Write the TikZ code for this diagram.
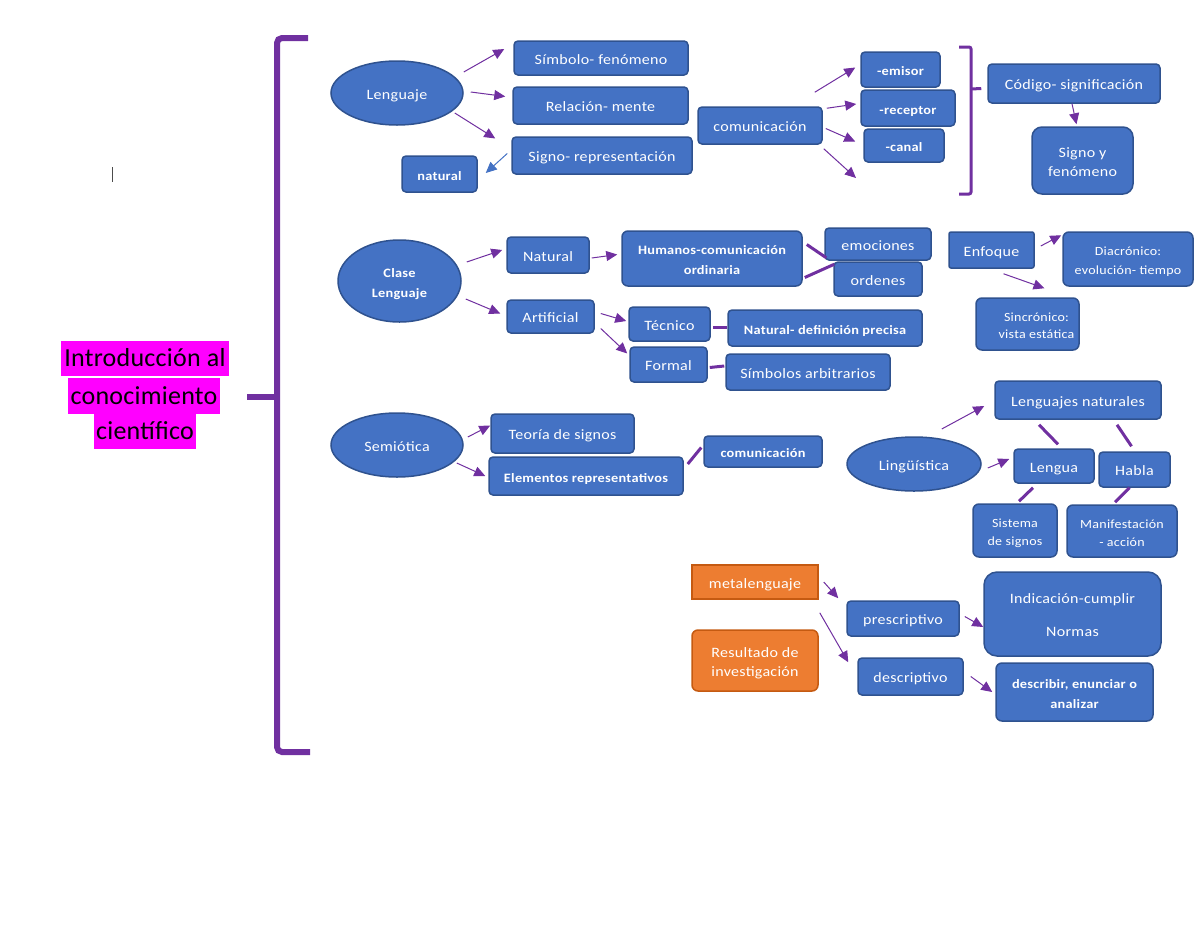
\documentclass[tikz,border=0pt]{standalone}
\usepackage{fontspec}
\setmainfont{Carlito}[FakeStretch=1.12,LetterSpace=2]
\newfontfamily\titlefont{Carlito}[LetterSpace=1]
\definecolor{boxblue}{HTML}{4472C4}
\definecolor{edgeblue}{HTML}{2F528F}
\definecolor{boxorange}{HTML}{ED7D31}
\definecolor{edgeorange}{HTML}{C55A11}
\definecolor{linepurple}{HTML}{7030A0}
\definecolor{titlepink}{HTML}{FF00FF}
\usetikzlibrary{shapes.geometric,arrows.meta}
\tikzset{
    bluebox/.style={draw=edgeblue, fill=boxblue, line width=1.5pt, rounded corners=4pt, text=white, align=center, inner sep=0pt, text height=12.5pt, text depth=0pt, font=\fontsize{14.3}{19}\selectfont},
    boldbox/.style={bluebox, font=\fontsize{12.8}{20}\selectfont\bfseries},
    orangebox/.style={bluebox, draw=edgeorange, fill=boxorange},
    blueoval/.style={ellipse, bluebox, rounded corners=0pt},
    smalltext/.style={font=\fontsize{12.5}{#1}\selectfont, rounded corners=6pt, text height=\dimexpr 12.5pt+#1\relax},
    flowarrow/.style={draw=linepurple, line width=1pt, -{Triangle[length=11pt,width=10pt]}},
    thickline/.style={draw=linepurple, line width=3pt},
    titleline/.style={fill=titlepink, text=black, inner sep=0pt, font=\titlefont\fontsize{26}{30}\selectfont}
}
\begin{document}
\begin{tikzpicture}[x=1pt,y=-1pt]
    \useasboundingbox (0,0) rectangle (1200,927);

    % title and big bracket
    \node[titleline, minimum width=168pt, minimum height=35pt] (titleone) at (145,358) {Introducción al};
    \node[titleline, minimum width=152pt, minimum height=36pt] (titletwo) at (144,396) {conocimiento};
    \node[titleline, minimum width=102pt, minimum height=35pt] (titlethree) at (145,431) {científico};
    \draw[linepurple, line width=6pt, rounded corners=5pt] (308,38) -- (277,38) -- (277,752) -- (310,752);
    \coordinate (bigtick) at (277,397);
    \draw[linepurple, line width=6pt] (247,397) -- (bigtick);
    \draw[black!70, line width=1pt] (112,167) -- (112,182);

    % Lenguaje
    \node[blueoval, minimum width=132pt, minimum height=64pt] (lenguaje) at (397,93) {Lenguaje};
    \node[bluebox, minimum width=174pt, minimum height=34pt] (simbolo) at (601,58) {Símbolo- fenómeno};
    \node[bluebox, minimum width=175pt, minimum height=37pt] (relacion) at (600.5,105.5) {Relación- mente};
    \node[bluebox, minimum width=180pt, minimum height=37pt] (signo) at (602,155.5) {Signo- representación};
    \node[boldbox, minimum width=75pt, minimum height=36pt] (natural) at (439.5,174) {natural};
    \node[bluebox, minimum width=124pt, minimum height=37pt] (comunicacion) at (760,125.5) {comunicación};
    \node[boldbox, minimum width=79pt, minimum height=35pt] (emisor) at (900.5,69.5) {-emisor};
    \node[boldbox, minimum width=94pt, minimum height=36pt] (receptor) at (908,108) {-receptor};
    \node[boldbox, minimum width=80pt, minimum height=33pt] (canal) at (904,145.5) {-canal};
    \node[bluebox, minimum width=172pt, minimum height=39pt] (codigo) at (1074,83.5) {Código- significación};
    \node[bluebox, rounded corners=10pt, text height=31.5pt, minimum width=101pt, minimum height=67pt] (signoy) at (1082.5,160.5) {Signo y\\fenómeno};
    \coordinate (comfree) at (856,178);
    \draw[flowarrow] ([shift={(0,-21)}]lenguaje.east) -- ([shift={(-9,-9)}]simbolo.west);
    \draw[flowarrow] ([shift={(7,-1)}]lenguaje.east) -- ([shift={(-7,-9)}]relacion.west);
    \draw[flowarrow] ([shift={(-9,20)}]lenguaje.east) -- ([shift={(-16,-17)}]signo.west);
    \draw[flowarrow, draw=boxblue] ([shift={(-4,-2)}]signo.west) -- ([shift={(8,-1)}]natural.east);
    \draw[flowarrow] ([shift={(-8,-14)}]comunicacion.north east) -- ([shift={(-5,-2)}]emisor.west);
    \draw[flowarrow] ([shift={(4,2)}]comunicacion.north east) -- ([shift={(-4,-4)}]receptor.west);
    \draw[flowarrow] ([shift={(3,3)}]comunicacion.east) -- ([shift={(-8,-4)}]canal.west);
    \draw[flowarrow] ([shift={(1,4)}]comunicacion.south east) -- (comfree);
    \draw[flowarrow] ([shift={(-2,0)}]codigo.south) -- ([shift={(-6,-2)}]signoy.north);
    % small bracket
    \draw[linepurple, line width=3pt, rounded corners=2pt] (959,47) -- (971,47) -- (971,194) -- (959,194);
    \draw[thickline] (971,89) -- ([shift={(-6,5)}]codigo.west);

    % Clase Lenguaje
    \node[blueoval, boldbox, rounded corners=0pt, text height=32.5pt, minimum width=123pt, minimum height=82pt] (clase) at (399.5,281) {Clase\\Lenguaje};
    \node[bluebox, minimum width=82pt, minimum height=36pt] (naturalc) at (548,255) {Natural};
    \node[boldbox, rounded corners=6pt, text height=32.5pt, minimum width=180pt, minimum height=55pt] (humanos) at (712,258.5) {Humanos-comunicación\\ordinaria};
    \node[bluebox, minimum width=106pt, minimum height=32pt] (emociones) at (878,244) {emociones};
    \node[bluebox, minimum width=88pt, minimum height=34pt] (ordenes) at (878,279) {ordenes};
    \node[bluebox, minimum width=87pt, minimum height=33pt] (artificial) at (550.5,316.5) {Artificial};
    \node[bluebox, minimum width=81pt, minimum height=34pt] (tecnico) at (669.5,324) {Técnico};
    \node[boldbox, minimum width=194pt, minimum height=36pt] (definicion) at (825,328) {Natural- definición precisa};
    \node[bluebox, minimum width=77pt, minimum height=35pt] (formal) at (668.5,364.5) {Formal};
    \node[bluebox, minimum width=164pt, minimum height=36pt] (arbitrarios) at (808,372) {Símbolos arbitrarios};
    \draw[flowarrow] ([shift={(5,-19)}]clase.east) -- ([shift={(-4,-5)}]naturalc.west);
    \draw[flowarrow] ([shift={(4,18)}]clase.east) -- ([shift={(-6,-3)}]artificial.west);
    \draw[flowarrow] ([shift={(2,3)}]naturalc.east) -- ([shift={(-4,-4)}]humanos.west);
    \draw[flowarrow] ([shift={(6,-3)}]artificial.east) -- ([shift={(-2,-3)}]tecnico.west);
    \draw[flowarrow] ([shift={(6,12)}]artificial.east) -- ([shift={(-2,-11)}]formal.west);
    \draw[thickline] ([shift={(4,-14)}]humanos.east) -- ([shift={(2,-3)}]emociones.south west);
    \draw[thickline] ([shift={(2,19)}]humanos.east) -- ([shift={(1,3)}]ordenes.north west);
    \draw[thickline] ([shift={(2,3)}]tecnico.east) -- ([shift={(0,-1)}]definicion.west);
    \draw[thickline] ([shift={(2,3)}]formal.east) -- ([shift={(-1,-6)}]arbitrarios.west);

    % Enfoque
    \node[bluebox, rounded corners=2pt, minimum width=85pt, minimum height=36pt] (enfoque) at (991.5,250) {Enfoque};
    \node[bluebox, smalltext=19pt, minimum width=130pt, minimum height=54pt] (diacronico) at (1128,259) {Diacrónico:\\evolución- tiempo};
    \node[bluebox, smalltext=17pt, minimum width=103pt, minimum height=52pt] (sincronico) at (1027.5,324) {\hspace*{18pt}Sincrónico:\\\hspace*{18pt}vista estática};
    \draw[flowarrow] ([shift={(6,-4)}]enfoque.east) -- ([shift={(-1,4)}]diacronico.north west);
    \draw[flowarrow] ([shift={(12,5)}]enfoque.south) -- ([shift={(17,-9)}]sincronico.north);

    % Semiotica
    \node[blueoval, minimum width=132pt, minimum height=64pt] (semiotica) at (397,445) {Semiótica};
    \node[bluebox, minimum width=143pt, minimum height=39pt] (teoria) at (562.5,433.5) {Teoría de signos};
    \node[boldbox, minimum width=194pt, minimum height=38pt] (elementos) at (586,476) {Elementos representativos};
    \node[boldbox, minimum width=118pt, minimum height=31pt] (comunicaciondos) at (763,451.5) {comunicación};
    \draw[flowarrow] ([shift={(4,-8)}]semiotica.east) -- ([shift={(0,-8)}]teoria.west);
    \draw[flowarrow] ([shift={(-7,18)}]semiotica.east) -- ([shift={(-3,0)}]elementos.west);
    \draw[thickline] ([shift={(4,-12)}]elementos.east) -- ([shift={(-2,-4)}]comunicaciondos.west);

    % Linguistica
    \node[blueoval, minimum width=134pt, minimum height=54pt] (linguistica) at (914,464) {Lingüística};
    \node[bluebox, minimum width=166pt, minimum height=38pt] (lenguajes) at (1078,400) {Lenguajes naturales};
    \node[bluebox, minimum width=80pt, minimum height=34pt] (lengua) at (1054,466) {Lengua};
    \node[bluebox, minimum width=71pt, minimum height=35pt] (habla) at (1134.5,469.5) {Habla};
    \node[bluebox, smalltext=18pt, minimum width=84pt, minimum height=53pt] (sistema) at (1015,530.5) {Sistema\\de signos};
    \node[bluebox, smalltext=18pt, minimum width=110pt, minimum height=52pt] (manifestacion) at (1122,531) {Manifestación\\- acción};
    \draw[flowarrow] ([shift={(-40,-35)}]linguistica.east) -- ([shift={(-10,6)}]lenguajes.west);
    \draw[flowarrow] ([shift={(6,4)}]linguistica.east) -- ([shift={(-4,-7)}]lengua.west);
    \draw[thickline] ([shift={(-39,5)}]lenguajes.south) -- ([shift={(4,-4)}]lengua.north);
    \draw[thickline] ([shift={(39,5)}]lenguajes.south) -- ([shift={(-3,-5)}]habla.north);
    \draw[thickline] ([shift={(-21,4)}]lengua.south) -- ([shift={(4,-2)}]sistema.north);
    \draw[thickline] ([shift={(-5,0)}]habla.south) -- ([shift={(-7,-2)}]manifestacion.north);

    % metalenguaje
    \node[orangebox, rounded corners=0pt, minimum width=126pt, minimum height=34pt] (metalenguaje) at (755,582) {metalenguaje};
    \node[orangebox, rounded corners=6pt, text height=31.5pt, minimum width=126pt, minimum height=61pt] (resultado) at (755,660.5) {Resultado de\\investigación};
    \node[bluebox, minimum width=112pt, minimum height=35pt] (prescriptivo) at (903,618.5) {prescriptivo};
    \node[bluebox, minimum width=105pt, minimum height=37pt] (descriptivo) at (910.5,676.5) {descriptivo};
    \node[bluebox, rounded corners=13pt, text height=45.5pt, minimum width=177pt, minimum height=84pt] (indicacion) at (1072.5,614) {Indicación-cumplir\\[14pt]Normas};
    \node[boldbox, rounded corners=6pt, text height=32.5pt, minimum width=157pt, minimum height=58pt] (describir) at (1074.5,692) {describir, enunciar o\\analizar};
    \draw[flowarrow] ([shift={(5,0)}]metalenguaje.east) -- ([shift={(-8,-2)}]prescriptivo.north west);
    \draw[flowarrow] ([shift={(1,13)}]metalenguaje.south east) -- ([shift={(-9,5)}]descriptivo.north west);
    \draw[flowarrow] ([shift={(5,-2)}]prescriptivo.east) -- ([shift={(0,13)}]indicacion.west);
    \draw[flowarrow] ([shift={(7,0)}]descriptivo.east) -- ([shift={(-3,0)}]describir.west);

\end{tikzpicture}
\end{document}
